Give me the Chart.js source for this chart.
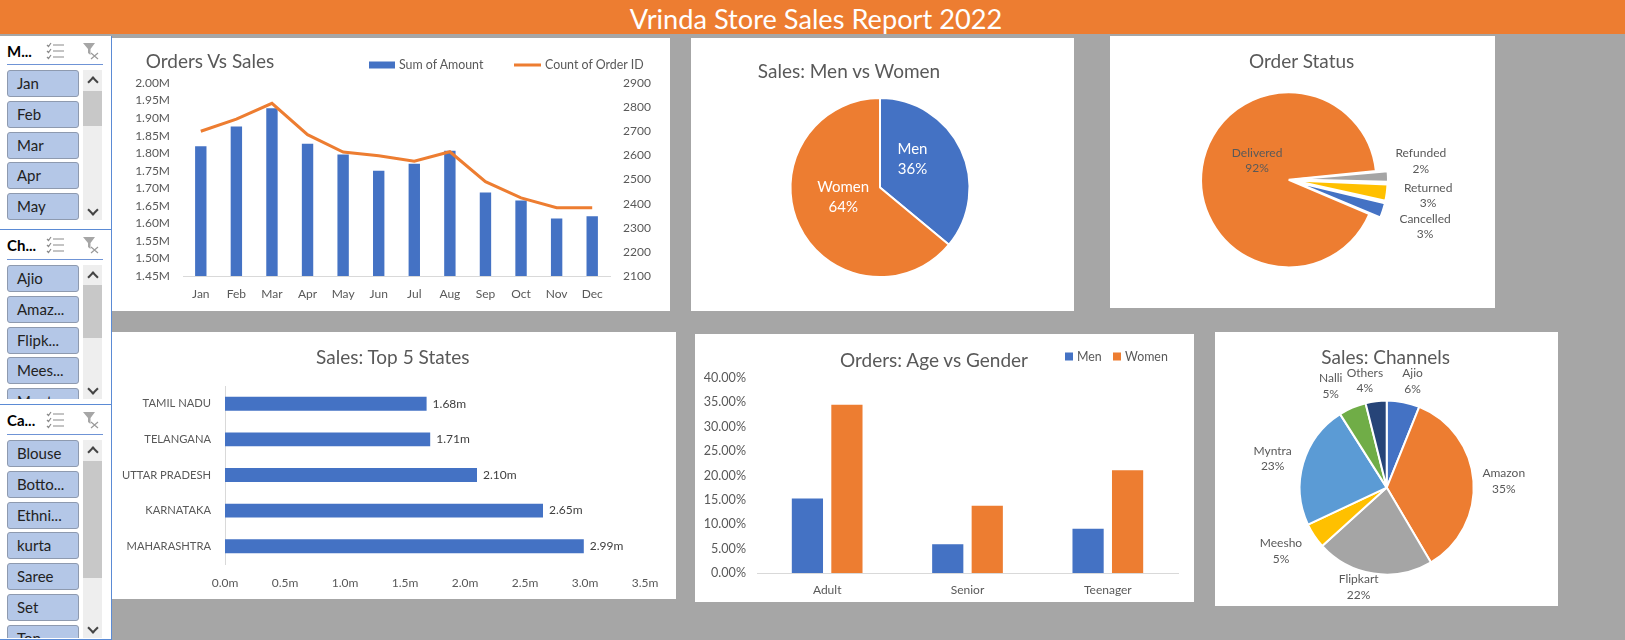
<!DOCTYPE html>
<html>
<head>
<meta charset="utf-8">
<title>Vrinda Store Sales Report 2022</title>
<script src="https://cdn.jsdelivr.net/npm/chart.js@4"></script>
<style>
  html, body { margin: 0; height: 100%; overflow: hidden; background: #a6a6a6; font-family: Lato, sans-serif; }
  #header { position: absolute; left: 0; top: 0; width: 1625px; height: 34px; background: #ed7d31; color: #fff; box-sizing: border-box; padding-left: 7px;
    font-size: 27.2px; line-height: 38px; text-align: center; }
  #slicers { position: absolute; left: 0; top: 36px; width: 112px; height: 604px; background: #fff; border-right: 1px solid #5b8bd5; box-sizing: border-box; overflow: hidden; }
  .slicer { position: absolute; left: 0; width: 111px; overflow: hidden; border-bottom: 1px solid #5b8bd5; box-sizing: border-box; }
  .slicer b { position: absolute; left: 7px; top: 6px; font-size: 15px; color: #000; }
  .slicer .rule { position: absolute; left: 7px; width: 96px; height: 1px; background: #6f94d6; }
  .slicer svg { position: absolute; }
  .btn { position: absolute; left: 7px; width: 72px; height: 27px; box-sizing: border-box; background: #b4c7e7; border: 1px solid #8e9aaf; border-radius: 3px;
    font-size: 15px; line-height: 25px; padding-left: 9px; color: #222; }
  .track { position: absolute; left: 83px; width: 19px; background: #eee; }
  .thumb { position: absolute; left: 0; width: 100%; background: #c8c8c8; }
  .chev { position: absolute; left: 6px; width: 6px; height: 6px; border-left: 2px solid #444; border-top: 2px solid #444; }
  .panel { position: absolute; background: #fff; }
  .panel canvas { position: absolute; left: 0; top: 0; }
  .title { position: absolute; color: #595959; font-size: 19px; white-space: nowrap; transform: translate(-50%, -50%); }
  .legend { position: absolute; color: #595959; font-size: 12.4px; white-space: nowrap; transform: translateY(-50%); }
  .legend i { display: inline-block; vertical-align: middle; margin-right: 4px; }
</style>
</head>
<body>
<div id="header">Vrinda Store Sales Report 2022</div>
<div id="slicers"></div>
<script>
const months = ['Jan', 'Feb', 'Mar', 'Apr', 'May', 'Jun', 'Jul', 'Aug', 'Sep', 'Oct', 'Nov', 'Dec'];
const monthSales = [1.82e6, 1.876e6, 1.928e6, 1.827e6, 1.796e6, 1.75e6, 1.77e6, 1.807e6, 1.688e6, 1.665e6, 1.614e6, 1.62e6];
const monthOrders = [2700, 2750, 2816, 2686, 2614, 2598, 2576, 2615, 2491, 2424, 2383, 2383];

const genders = ['Men', 'Women'];
const genderSales = [36, 64];

const statuses = ['Cancelled', 'Delivered', 'Refunded', 'Returned'];
const statusShare = [2.8, 92, 2.1, 3.1];

const states = ['TAMIL NADU', 'TELANGANA', 'UTTAR PRADESH', 'KARNATAKA', 'MAHARASHTRA'];
const stateSales = [1.68, 1.71, 2.10, 2.65, 2.99];

const ageGroups = ['Adult', 'Senior', 'Teenager'];
const menOrders = [15.3, 5.9, 9.1];
const womenOrders = [34.5, 13.8, 21.1];

const channels = ['Ajio', 'Amazon', 'Flipkart', 'Meesho', 'Myntra', 'Nalli', 'Others'];
const channelShare = [6.1, 35.4, 21.8, 4.7, 23, 5.1, 3.9];

const slicerMonths = ['M...', 'Jan', 'Feb', 'Mar', 'Apr', 'May'];
const slicerChannels = ['Ch...', 'Ajio', 'Amaz...', 'Flipk...', 'Mees...', 'Myntr...'];
const slicerCategories = ['Ca...', 'Blouse', 'Botto...', 'Ethni...', 'kurta', 'Saree', 'Set', 'Top'];

const BLUE = '#4472c4', ORANGE = '#ed7d31', GREY = '#a5a5a5', GOLD = '#ffc000';
const TEXT = '#595959', AXIS = '#d9d9d9';
const tickFont = { family: 'Lato', size: 12 };

Chart.defaults.animation = false;
Chart.defaults.font.family = 'Lato';
Chart.defaults.color = TEXT;

// slicer column on the left
const filterIcons = `
  <svg style="left:46px;top:6px" width="19" height="18" viewBox="0 0 19 18" fill="none" stroke="#8a8a8a" stroke-width="1.2">
    <path d="M1 3l1.5 1.5L5 1M1 9l1.5 1.5L5 7M1 15l1.5 1.5L5 13M7 3h11M7 9h11M7 15h11"/></svg>
  <svg style="left:83px;top:6px" width="18" height="18" viewBox="0 0 18 18">
    <path d="M0 1h12L7.5 7v6L5 11V7z" fill="#a6a6a6"/><path d="M8 11l7 6M15 11l-7 6" stroke="#9a9a9a" stroke-width="1.2"/></svg>`;

function addSlicer(items, top, height, ruleY, listTop, listHeight, thumbTop, thumbHeight, step) {
  const box = document.createElement('div');
  box.className = 'slicer';
  box.style.top = top + 'px';
  box.style.height = height + 'px';
  let html = `<b>${items[0]}</b>${filterIcons}<div class="rule" style="top:${ruleY}px"></div>`;
  items.slice(1).forEach((name, i) => {
    html += `<div class="btn" style="top:${listTop + i * step}px">${name}</div>`;
  });
  html += `<div style="position:absolute;left:0;top:${listTop + listHeight}px;width:100%;height:40px;background:#fff"></div>`;
  html += `<div class="track" style="top:${listTop}px;height:${listHeight}px">
    <div class="thumb" style="top:${thumbTop}px;height:${thumbHeight}px"></div>
    <div class="chev" style="top:8px;transform:rotate(45deg)"></div>
    <div class="chev" style="top:${listHeight - 14}px;transform:rotate(225deg)"></div></div>`;
  box.innerHTML = html;
  document.getElementById('slicers').appendChild(box);
}
addSlicer(slicerMonths, 0, 194, 28, 34, 150, 21, 35, 30.8);
addSlicer(slicerChannels, 194, 175, 29, 35, 134, 20, 53, 30.8);
addSlicer(slicerCategories, 369, 235, 29, 35, 198, 21, 117, 30.8);

function addPanel(x, y, w, h, title, titleX, titleY) {
  const panel = document.createElement('div');
  panel.className = 'panel';
  panel.style.cssText = `left:${x}px;top:${y}px;width:${w}px;height:${h}px`;
  const canvas = document.createElement('canvas');
  canvas.width = w;
  canvas.height = h;
  panel.appendChild(canvas);
  const label = document.createElement('div');
  label.className = 'title';
  label.textContent = title;
  label.style.left = titleX - x + 'px';
  label.style.top = titleY - y + 'px';
  panel.appendChild(label);
  document.body.appendChild(panel);
  return { panel, canvas, x, y, w, h };
}

function addLegend(box, left, top, text, swatch) {
  const item = document.createElement('div');
  item.className = 'legend';
  item.style.left = left - box.x + 'px';
  item.style.top = top - box.y + 'px';
  item.innerHTML = `<i style="${swatch}"></i>${text}`;
  box.panel.appendChild(item);
}

// name + percent on each slice, placed from the slice's outer edge
const sliceLabels = {
  id: 'sliceLabels',
  afterDatasetsDraw(chart, args, opts) {
    const { ctx } = chart;
    const arcs = chart.getDatasetMeta(0).data;
    const values = chart.data.datasets[0].data;
    const total = values.reduce((a, b) => a + b, 0);
    ctx.save();
    ctx.textAlign = 'center';
    ctx.textBaseline = 'middle';
    ctx.font = `${opts.size}px Lato`;
    ctx.fillStyle = opts.color;
    arcs.forEach((arc, i) => {
      const mid = (arc.startAngle + arc.endAngle) / 2;
      const reach = arc.outerRadius + (arc.options.offset || 0);
      const px = arc.x + Math.cos(mid) * reach + opts.shift[i][0];
      const py = arc.y + Math.sin(mid) * reach + opts.shift[i][1];
      const half = opts.size * 0.65;
      ctx.fillText(chart.data.labels[i], px, py - half);
      ctx.fillText(Math.round(values[i] / total * 100) + '%', px, py + half);
    });
    ctx.restore();
  }
};

// value at the end of each horizontal bar
const barEndLabels = {
  id: 'barEndLabels',
  afterDatasetsDraw(chart) {
    const { ctx } = chart;
    ctx.save();
    ctx.font = '12px Lato';
    ctx.fillStyle = '#404040';
    ctx.textBaseline = 'middle';
    chart.getDatasetMeta(0).data.forEach((bar, i) => {
      ctx.fillText(stateSales[i].toFixed(2) + 'm', bar.x + 6, bar.y);
    });
    ctx.restore();
  }
};

function drawPie(box, labels, values, colors, cx, cy, r, labelOpts, extra = {}) {
  const offset = extra.offset ? Math.max(...extra.offset) : 0;
  const half = r + (2 + offset) / 2;
  new Chart(box.canvas, {
    type: 'pie',
    data: {
      labels,
      datasets: [{ data: values, backgroundColor: colors, borderColor: '#fff', borderWidth: 2, offset: extra.offset || 0 }]
    },
    options: {
      responsive: false,
      rotation: extra.rotation || 0,
      layout: {
        padding: {
          left: cx - half - box.x,
          top: cy - half - box.y,
          right: box.x + box.w - cx - half,
          bottom: box.y + box.h - cy - half
        }
      },
      plugins: { legend: { display: false }, tooltip: { enabled: false }, sliceLabels: labelOpts }
    },
    plugins: [sliceLabels]
  });
}

// Orders Vs Sales
const ordersBox = addPanel(112, 38, 558, 273, 'Orders Vs Sales', 210, 60);
addLegend(ordersBox, 369, 64, 'Sum of Amount', `width:26px;height:7px;background:${BLUE}`);
addLegend(ordersBox, 514, 64, 'Count of Order ID', `width:27px;height:3px;background:${ORANGE}`);
new Chart(ordersBox.canvas, {
  data: {
    labels: months,
    datasets: [
      { type: 'line', label: 'Count of Order ID', data: monthOrders, yAxisID: 'y2', borderColor: ORANGE, borderWidth: 3, pointRadius: 0, tension: 0 },
      { type: 'bar', label: 'Sum of Amount', data: monthSales, yAxisID: 'y', backgroundColor: BLUE, categoryPercentage: 1, barPercentage: 0.32 }
    ]
  },
  options: {
    responsive: false,
    layout: { padding: { top: 45 } },
    plugins: { legend: { display: false }, tooltip: { enabled: false } },
    scales: {
      x: {
        grid: { display: false },
        border: { color: AXIS, width: 1 },
        ticks: { font: tickFont, padding: 3, color: TEXT, maxRotation: 0 },
        afterFit: s => { s.height = 35; }
      },
      y: {
        position: 'left', min: 1450000, max: 2000000,
        grid: { display: false }, border: { display: false },
        ticks: { font: tickFont, padding: 5, color: TEXT, stepSize: 50000, callback: v => (v / 1e6).toFixed(2) + 'M' },
        afterFit: s => { s.width = 71; }
      },
      y2: {
        position: 'right', min: 2100, max: 2900,
        grid: { display: false }, border: { display: false },
        ticks: { font: tickFont, padding: 5, color: TEXT, stepSize: 100, callback: v => String(v) },
        afterFit: s => { s.width = 60; }
      }
    }
  }
});

// Sales: Men vs Women
const genderBox = addPanel(691, 38, 383, 273, 'Sales: Men vs Women', 849, 69.5);
drawPie(genderBox, genders, genderSales, [BLUE, ORANGE], 880, 187.6, 89.5,
  { size: 15, color: '#fff', shift: [[-48.5, 9.9], [44.2, -28.6]] });

// Order Status
const statusBox = addPanel(1110, 36, 385, 272, 'Order Status', 1301.7, 60);
drawPie(statusBox, statuses, statusShare, [BLUE, ORANGE, GREY, GOLD], 1288.7, 179.8, 87.6,
  { size: 12, color: TEXT, shift: [[29.3, 11.8], [55, -6], [19.6, -14.7], [27.8, 1.3]] },
  { rotation: 103, offset: [25, 0, 25, 25] });

// Sales: Top 5 States
const statesBox = addPanel(112, 332, 564, 267, 'Sales: Top 5 States', 392.8, 355.5);
new Chart(statesBox.canvas, {
  type: 'bar',
  data: { labels: states, datasets: [{ data: stateSales, backgroundColor: BLUE, categoryPercentage: 1, barPercentage: 0.39 }] },
  options: {
    responsive: false,
    indexAxis: 'y',
    layout: { padding: { top: 54, right: 31 } },
    plugins: { legend: { display: false }, tooltip: { enabled: false } },
    scales: {
      x: {
        min: 0, max: 3.5,
        grid: { display: false }, border: { display: false },
        ticks: { font: tickFont, padding: 4, color: TEXT, stepSize: 0.5, callback: v => v.toFixed(1) + 'm' },
        afterFit: s => { s.height = 35; }
      },
      y: {
        grid: { display: false },
        border: { color: AXIS, width: 1 },
        ticks: { font: { family: 'Lato', size: 11.2 }, padding: 6, color: TEXT },
        afterFit: s => { s.width = 113; }
      }
    }
  },
  plugins: [barEndLabels]
});

// Orders: Age vs Gender
const ageBox = addPanel(695, 334, 499, 268, 'Orders: Age vs Gender', 934, 358.6);
addLegend(ageBox, 1065, 355.5, 'Men', `width:8px;height:8px;background:${BLUE}`);
addLegend(ageBox, 1113, 355.5, 'Women', `width:8px;height:8px;background:${ORANGE}`);
new Chart(ageBox.canvas, {
  type: 'bar',
  data: {
    labels: ageGroups,
    datasets: [
      { label: 'Men', data: menOrders, backgroundColor: BLUE, categoryPercentage: 0.563, barPercentage: 0.79 },
      { label: 'Women', data: womenOrders, backgroundColor: ORANGE, categoryPercentage: 0.563, barPercentage: 0.79 }
    ]
  },
  options: {
    responsive: false,
    layout: { padding: { top: 44, right: 16 } },
    plugins: { legend: { display: false }, tooltip: { enabled: false } },
    scales: {
      x: {
        grid: { display: false },
        border: { color: AXIS, width: 1 },
        ticks: { font: tickFont, padding: 2, color: TEXT },
        afterFit: s => { s.height = 29; }
      },
      y: {
        min: 0, max: 40,
        grid: { display: false }, border: { display: false },
        ticks: { font: { family: 'Lato', size: 12.6 }, padding: 3, color: TEXT, stepSize: 5, callback: v => v.toFixed(2) + '%' },
        afterFit: s => { s.width = 62; }
      }
    }
  }
});

// Sales: Channels
const channelBox = addPanel(1215, 332, 343, 274, 'Sales: Channels', 1385.7, 355.5);
drawPie(channelBox, channels, channelShare, [BLUE, ORANGE, GREY, GOLD, '#5b9bd5', '#70ad47', '#264478'], 1386.7, 487.6, 87,
  { size: 12, color: TEXT, shift: [[9.3, -20.8], [30.3, 0.3], [-15, 13.5], [-33.3, 15.4], [-30.5, -4.7], [-21.7, -21.5], [-11.2, -20.8]] });
</script>
</body>
</html>
